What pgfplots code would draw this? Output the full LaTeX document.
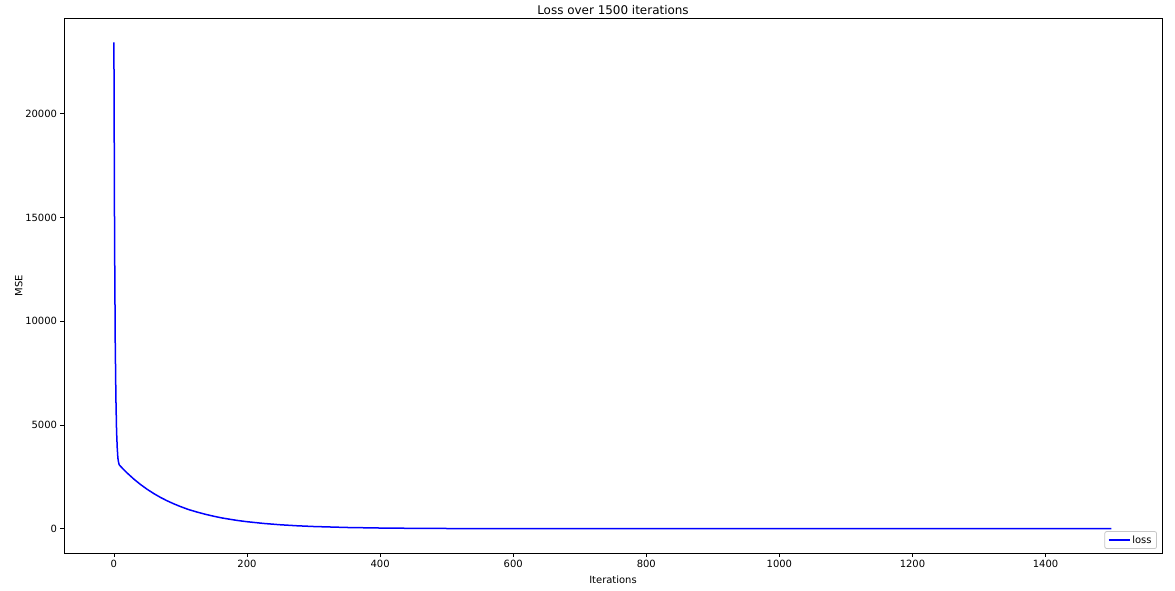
\documentclass[border=0pt]{standalone}
\usepackage{pgfplots}
\pgfplotsset{compat=1.18}
\usepackage{fontspec}
\setmainfont{DejaVu Sans}

\begin{document}
\begin{tikzpicture}[font=\fontsize{10}{12}\selectfont]
\path[use as bounding box] (-64bp,-38bp) rectangle (1111bp,553bp);
\begin{axis}[
scale only axis,
width=1098bp,
height=535bp,
xmin=-75, xmax=1575,
ymin=-1170, ymax=24620,
xtick={0,200,400,600,800,1000,1200,1400},
ytick={0,5000,10000,15000,20000},
scaled ticks=false,
tick align=outside,
xtick pos=bottom, ytick pos=left,
major tick length=3.5bp,
tick style={black, line width=0.8bp},
axis line style={line width=0.8bp},
title={Loss over 1500 iterations},
title style={font=\fontsize{12}{14}\selectfont, yshift=-6bp},
xlabel={Iterations},
ylabel={MSE},
xlabel style={yshift=-2bp},
ylabel style={yshift=-4bp},
legend style={draw=black!22, line width=0.8bp, rounded corners=2bp,
  font=\fontsize{10}{12}\selectfont,
  inner xsep=3bp, inner ysep=2bp, at={(0.9954,0.0075)}, anchor=south east},
legend image post style={xscale=1.24},
legend cell align=left,
yticklabel style={/pgf/number format/.cd, fixed, 1000 sep={}, assume math mode=true},
xticklabel style={/pgf/number format/.cd, fixed, 1000 sep={}, assume math mode=true},
]
\addplot[color=blue, line width=1.5bp] coordinates {
(0,23450) (1,14000) (2,9000) (3,6300) (4,4700) (5,3900) (6,3400)
(7,3200) (8,3080) (10,3010) (15,2840) (20,2683) (30,2392) (40,2132)
(50,1900) (60,1694) (70,1510) (80,1346) (90,1200) (100,1069)
(112,926) (125,803) (137,700) (150,602) (162,522) (175,452)
(187,392) (200,339) (225,255) (250,191) (275,143) (300,107)
(350,60) (400,34) (450,19) (500,11) (600,3.5) (700,1.1)
(800,0.4) (1000,0.1) (1200,0) (1499,0)
};
\addlegendentry{loss}
\end{axis}
\end{tikzpicture}
\end{document}
